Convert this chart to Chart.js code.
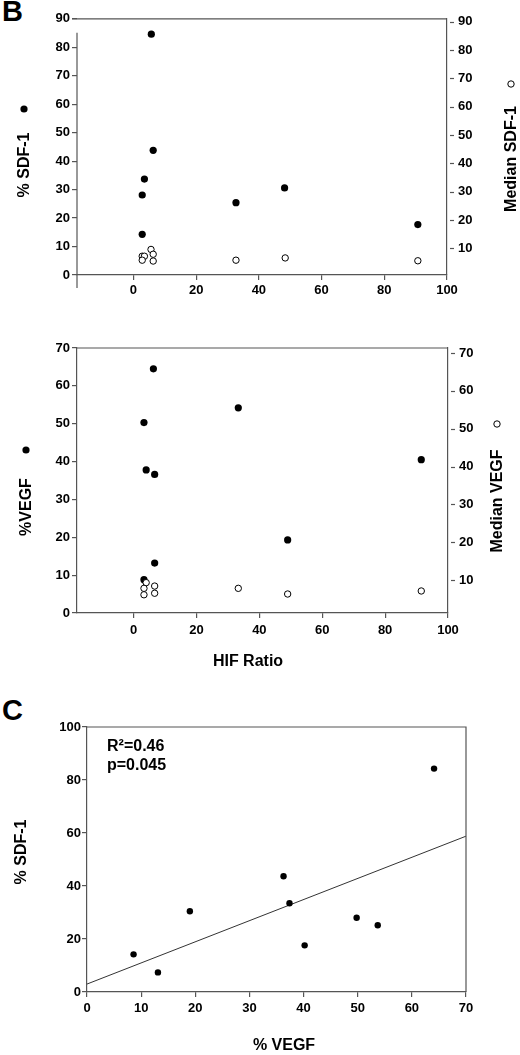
<!DOCTYPE html>
<html>
<head>
<meta charset="utf-8">
<script src="https://cdn.jsdelivr.net/npm/chart.js@4.4.1/dist/chart.umd.min.js"></script>
<style>
  html, body { margin: 0; padding: 0; background: #fff; }
  body { width: 520px; height: 1055px; position: relative; overflow: hidden; }
  canvas { position: absolute; left: 0; }
  .panel { position: absolute; left: 2px; font: bold 29px "Liberation Sans", Arial, sans-serif; line-height: 1; color: #000; }
</style>
</head>
<body>
<div class="panel" style="top:-3px">B</div>
<div class="panel" style="top:696px">C</div>
<canvas id="sdfChart" width="520" height="310" style="top:0"></canvas>
<canvas id="vegfChart" width="520" height="360" style="top:320px"></canvas>
<canvas id="corrChart" width="520" height="375" style="top:680px"></canvas>
<script>
// ---- data ----
// panel B, top: % SDF-1 (filled) and median SDF-1 (open) vs HIF ratio
const hifPctSdf = [5.7, 6.3, 3.5, 2.8, 2.8, 32.7, 48.2, 90.7];
const pctSdf = [84.6, 43.8, 33.7, 28.1, 14.3, 25.4, 30.6, 17.7];
const hifMedSdf = [5.6, 2.8, 3.5, 2.8, 6.3, 6.3, 32.7, 48.4, 90.7];
const medSdf = [9.6, 7.2, 7.2, 5.8, 7.9, 5.5, 5.8, 6.6, 5.6];

// panel B, bottom: % VEGF (filled) and median VEGF (open) vs HIF ratio
const hifPctVegf = [6.3, 3.3, 4.0, 6.7, 6.7, 3.3, 33.3, 49.0, 91.5];
const pctVegf = [64.5, 50.3, 37.8, 36.6, 13.2, 8.8, 54.2, 19.3, 40.5];
const hifMedVegf = [4.0, 3.3, 3.3, 6.7, 6.7, 33.3, 49.0, 91.5];
const medVegf = [9.3, 7.8, 6.1, 8.4, 6.5, 7.8, 6.3, 7.1];

// panel C: % SDF-1 vs % VEGF with regression line
const corrVegf = [64.1, 36.3, 37.4, 19.0, 49.8, 53.7, 40.2, 8.6, 13.1];
const corrSdf = [84.3, 43.7, 33.5, 30.5, 28.0, 25.2, 17.6, 14.2, 7.4];
const fitX = [0, 70];
const fitY = [3.0, 58.8];

// tick labels
const hifTicks = [0, 20, 40, 60, 80, 100];
const sdfTicks = [0, 10, 20, 30, 40, 50, 60, 70, 80, 90];
const medSdfTicks = [10, 20, 30, 40, 50, 60, 70, 80, 90];
const vegfTicks = [0, 10, 20, 30, 40, 50, 60, 70];
const medVegfTicks = [10, 20, 30, 40, 50, 60, 70];
const corrXTicks = [0, 10, 20, 30, 40, 50, 60, 70];
const corrYTicks = [0, 20, 40, 60, 80, 100];

const FONT = '"Liberation Sans", Arial, sans-serif';
const axisColor = '#555';
const axisWidth = 1.2;

Chart.defaults.font.family = FONT;
Chart.defaults.font.weight = 'bold';
Chart.defaults.font.size = 13;
Chart.defaults.color = '#000';
Chart.defaults.animation = false;

const pts = (xs, ys) => xs.map((x, i) => ({ x: x, y: ys[i] }));
const setTicks = list => scale => { scale.ticks = list.map(v => ({ value: v })); };
const tickFont = { family: FONT, size: 13, weight: 'bold' };

function axis(opts) {
  const o = {
    type: 'linear',
    position: opts.position,
    min: opts.min,
    max: opts.max,
    afterBuildTicks: setTicks(opts.ticks),
    afterFit: s => { if (opts.width) s.width = opts.width; if (opts.height) s.height = opts.height; },
    grid: {
      display: opts.marks !== false,
      drawOnChartArea: false,
      drawTicks: opts.marks !== false,
      tickLength: 5,
      color: axisColor,
      lineWidth: axisWidth
    },
    border: { display: opts.border !== false, color: axisColor, width: axisWidth },
    ticks: { font: tickFont, color: '#000', padding: opts.pad, maxRotation: 0, autoSkip: false }
  };
  if (opts.id) o.id = opts.id;
  return o;
}

function filledSet(data, yAxisID, r) {
  return { data: data, yAxisID: yAxisID, pointRadius: r, pointHoverRadius: r,
           backgroundColor: '#000', borderColor: '#000', borderWidth: 0, showLine: false };
}
function openSet(data, yAxisID) {
  return { data: data, yAxisID: yAxisID, pointRadius: 3.2, pointHoverRadius: 3.2,
           backgroundColor: '#fff', borderColor: '#000', borderWidth: 1, showLine: false };
}

// frame lines, detached right tick dashes, rotated titles and key markers
function decor(cfg) {
  return {
    id: 'decor',
    afterDraw(chart) {
      const ctx = chart.ctx, a = chart.chartArea;
      ctx.save();
      ctx.strokeStyle = axisColor;
      ctx.lineWidth = axisWidth;
      ctx.beginPath();
      ctx.moveTo(a.left - (cfg.topExtend || 0), a.top);
      ctx.lineTo(a.right, a.top);
      if (cfg.rightLine) ctx.lineTo(a.right, a.bottom);
      ctx.stroke();
      if (cfg.offsetLeft) {
        ctx.beginPath();
        ctx.moveTo(a.left, a.top + 14);
        ctx.lineTo(a.left, a.bottom + 13);
        ctx.stroke();
      }
      if (cfg.dashScale) {
        const s = chart.scales[cfg.dashScale];
        s.ticks.forEach(t => {
          const y = Math.round(s.getPixelForValue(t.value)) + 0.5;
          ctx.beginPath();
          ctx.moveTo(a.right + 3, y);
          ctx.lineTo(a.right + 7, y);
          ctx.stroke();
        });
      }
      ctx.fillStyle = '#000';
      ctx.font = 'bold 16px ' + FONT;
      (cfg.titles || []).forEach(t => {
        ctx.save();
        ctx.translate(t.x, t.y);
        ctx.rotate(t.rot || 0);
        ctx.textAlign = t.align || 'center';
        ctx.textBaseline = t.base || 'middle';
        ctx.fillText(t.text, 0, 0);
        ctx.restore();
      });
      (cfg.keys || []).forEach(k => {
        ctx.beginPath();
        ctx.arc(k.x, k.y, k.open ? 3.2 : 3.6, 0, Math.PI * 2);
        if (k.open) {
          ctx.fillStyle = '#fff'; ctx.fill();
          ctx.strokeStyle = '#000'; ctx.lineWidth = 1; ctx.stroke();
        } else {
          ctx.fillStyle = '#000'; ctx.fill();
        }
      });
      ctx.restore();
    }
  };
}

const baseOptions = (padTop, padRight) => ({
  responsive: false,
  animation: false,
  layout: { padding: { top: padTop, right: padRight, left: 0, bottom: 0 } },
  plugins: { legend: { display: false }, tooltip: { enabled: false } }
});

// ---- panel B, top ----
new Chart(document.getElementById('sdfChart'), {
  type: 'scatter',
  data: {
    datasets: [
      openSet(pts(hifMedSdf, medSdf), 'y2'),
      filledSet(pts(hifPctSdf, pctSdf), 'y', 3.6)
    ]
  },
  options: Object.assign(baseOptions(16, 0), {
    scales: {
      x: axis({ position: 'bottom', min: -18, max: 100, ticks: hifTicks, height: 35, pad: 3 }),
      y: axis({ position: 'left', min: 0, max: 90, ticks: sdfTicks, width: 77, pad: 2, border: false }),
      y2: axis({ position: 'right', min: 0.57, max: 91.05, ticks: medSdfTicks, width: 73, pad: 11, marks: false })
    }
  }),
  plugins: [decor({
    topExtend: 5, offsetLeft: true, dashScale: 'y2',
    titles: [
      { text: '% SDF-1', x: 25, y: 165, rot: -Math.PI / 2 },
      { text: 'Median SDF-1', x: 512, y: 159, rot: -Math.PI / 2 }
    ],
    keys: [{ x: 24, y: 109 }, { x: 511, y: 84, open: true }]
  })]
});

// ---- panel B, bottom ----
new Chart(document.getElementById('vegfChart'), {
  type: 'scatter',
  data: {
    datasets: [
      openSet(pts(hifMedVegf, medVegf), 'y2'),
      filledSet(pts(hifPctVegf, pctVegf), 'y', 3.6)
    ]
  },
  options: Object.assign(baseOptions(28, 0), {
    scales: {
      x: axis({ position: 'bottom', min: -18, max: 100, ticks: hifTicks, height: 67, pad: 5 }),
      y: axis({ position: 'left', min: 0, max: 70, ticks: vegfTicks, width: 77, pad: 2 }),
      y2: axis({ position: 'right', min: 1.28, max: 71.32, ticks: medVegfTicks, width: 72, pad: 11, marks: false })
    }
  }),
  plugins: [decor({
    dashScale: 'y2',
    titles: [
      { text: '%VEGF', x: 27, y: 187, rot: -Math.PI / 2 },
      { text: 'Median VEGF', x: 498, y: 181, rot: -Math.PI / 2 },
      { text: 'HIF Ratio', x: 248, y: 342 }
    ],
    keys: [{ x: 26, y: 130 }, { x: 497, y: 104, open: true }]
  })]
});

// ---- panel C ----
new Chart(document.getElementById('corrChart'), {
  type: 'scatter',
  data: {
    datasets: [
      filledSet(pts(corrVegf, corrSdf), 'y', 3.2),
      { type: 'line', data: pts(fitX, fitY), yAxisID: 'y', borderColor: '#333', borderWidth: 1,
        pointRadius: 0, fill: false, tension: 0 }
    ]
  },
  options: Object.assign(baseOptions(47, 54), {
    scales: {
      x: axis({ position: 'bottom', min: 0, max: 70, ticks: corrXTicks, height: 63, pad: 4 }),
      y: axis({ position: 'left', min: 0, max: 100, ticks: corrYTicks, width: 87, pad: 1 })
    }
  }),
  plugins: [decor({
    rightLine: true,
    titles: [
      { text: '% SDF-1', x: 22, y: 852 - 680, rot: -Math.PI / 2 },
      { text: '% VEGF', x: 284, y: 366 },
      { text: 'R\u00B2=0.46', x: 107, y: 71, align: 'left', base: 'alphabetic' },
      { text: 'p=0.045', x: 107, y: 90, align: 'left', base: 'alphabetic' }
    ]
  })]
});
</script>
</body>
</html>
